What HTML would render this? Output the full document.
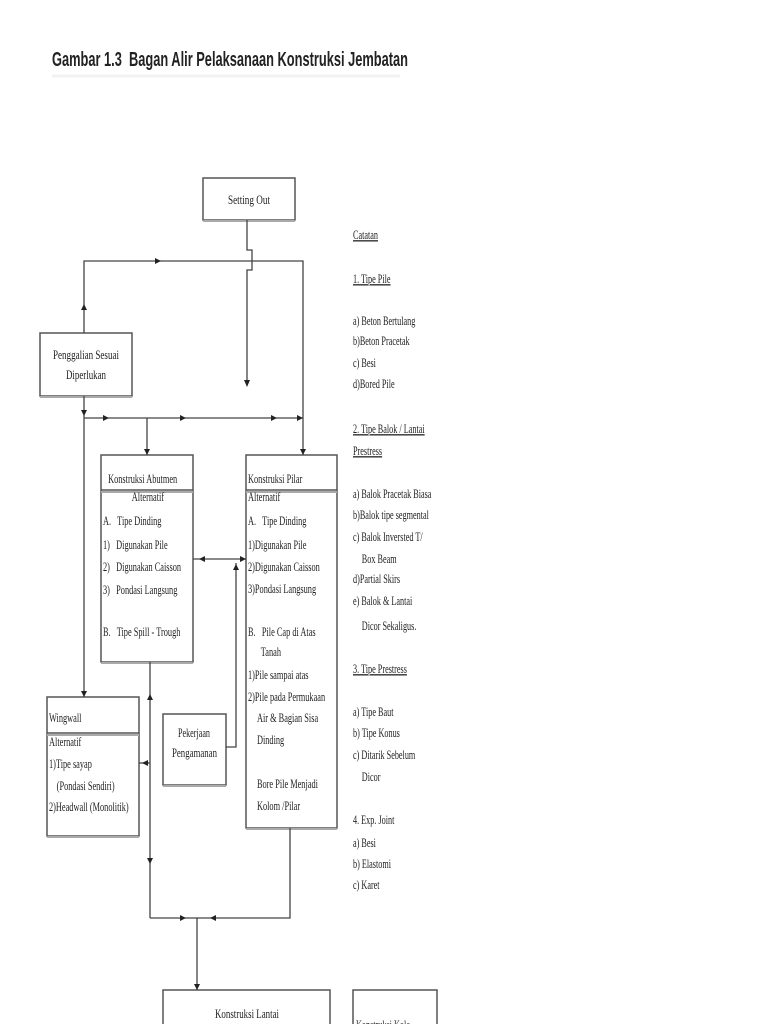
<!DOCTYPE html>
<html><head><meta charset="utf-8"><style>
html,body{margin:0;padding:0;background:#fff;width:768px;height:1024px;overflow:hidden}
svg{display:block}
text{font-family:"Liberation Serif",serif;font-size:13px;fill:#222;white-space:pre}
</style></head><body>
<svg width="768" height="1024" viewBox="0 0 768 1024" xmlns="http://www.w3.org/2000/svg">
<text x="52" y="66" textLength="356" lengthAdjust="spacingAndGlyphs" style="font-family:'Liberation Sans',sans-serif;font-size:20px;font-weight:bold;fill:#222">Gambar 1.3  Bagan Alir Pelaksanaan Konstruksi Jembatan</text>
<line x1="52" y1="76" x2="400" y2="76" stroke="#f2f2f2" stroke-width="3"/>

<g fill="none" stroke="#555" stroke-width="1.5">
<rect x="203" y="178" width="92" height="42"/>
<rect x="40" y="333" width="92" height="63"/>
<rect x="101" y="455" width="92" height="207"/>
<line x1="101" y1="490" x2="193" y2="490"/>
<rect x="246" y="455" width="91" height="373"/>
<line x1="246" y1="490" x2="337" y2="490"/>
<rect x="47" y="697" width="92" height="139"/>
<line x1="47" y1="733" x2="139" y2="733"/>
<rect x="163" y="714" width="63" height="71"/>
<rect x="163" y="990" width="167" height="40"/>
<rect x="353" y="990" width="84" height="40"/>
</g>
<g fill="none" stroke="#aaa" stroke-width="2">
<line x1="203" y1="221" x2="295" y2="221"/>
<line x1="40" y1="397" x2="132" y2="397"/>
<line x1="101" y1="663" x2="193" y2="663"/>
<line x1="246" y1="829" x2="337" y2="829"/>
<line x1="47" y1="837" x2="139" y2="837"/>
<line x1="163" y1="786" x2="226" y2="786"/>
<line x1="101" y1="492" x2="193" y2="492"/>
<line x1="246" y1="492" x2="337" y2="492"/>
<line x1="47" y1="735" x2="139" y2="735"/>
</g>

<g fill="none" stroke="#444" stroke-width="1.3">
<polyline points="247,220 247,250 252,250 252,270 247,270 247,385"/>
<polyline points="84,333 84,261 303,261 303,455"/>
<line x1="84" y1="396" x2="84" y2="697"/>
<line x1="84" y1="418" x2="303" y2="418"/>
<line x1="147" y1="418" x2="147" y2="455"/>
<line x1="193" y1="559" x2="246" y2="559"/>
<polyline points="226,747 236,747 236,563"/>
<line x1="150" y1="662" x2="150" y2="918"/>
<line x1="139" y1="763" x2="150" y2="763"/>
<polyline points="150,918 290,918 290,828"/>
<line x1="197" y1="918" x2="197" y2="990"/>
</g>
<g fill="#222">
<polygon points="244,380 250,380 247,387"/>
<polygon points="155,258 155,264 161,261"/>
<polygon points="81,310 87,310 84,304"/>
<polygon points="81,410 87,410 84,416"/>
<polygon points="103,415 103,421 109,418"/>
<polygon points="180,415 180,421 186,418"/>
<polygon points="271,415 271,421 277,418"/>
<polygon points="297,415 297,421 303,418"/>
<polygon points="144,449 150,449 147,455"/>
<polygon points="300,449 306,449 303,455"/>
<polygon points="81,691 87,691 84,697"/>
<polygon points="199,559 205,556 205,562"/>
<polygon points="246,559 240,556 240,562"/>
<polygon points="233,570 239,570 236,564"/>
<polygon points="147,700 153,700 150,694"/>
<polygon points="147,858 153,858 150,864"/>
<polygon points="142,763 148,760 148,766"/>
<polygon points="180,915 180,921 186,918"/>
<polygon points="216,915 216,921 210,918"/>
<polygon points="194,984 200,984 197,990"/>
</g>

<text x="228" y="204" textLength="42" lengthAdjust="spacingAndGlyphs">Setting Out</text>
<text x="53" y="359" textLength="66" lengthAdjust="spacingAndGlyphs">Penggalian Sesuai</text>
<text x="66" y="379" textLength="40" lengthAdjust="spacingAndGlyphs">Diperlukan</text>
<text x="178" y="737" textLength="32" lengthAdjust="spacingAndGlyphs">Pekerjaan</text>
<text x="172" y="757" textLength="45" lengthAdjust="spacingAndGlyphs">Pengamanan</text>
<text x="215" y="1018" textLength="64" lengthAdjust="spacingAndGlyphs">Konstruksi Lantai</text>

<g transform="translate(103,0) scale(0.64,1)">
<text x="8" y="483">Konstruksi Abutmen</text>
<text x="45" y="501">Alternatif</text>
<text x="0" y="525">A.   Tipe Dinding</text>
<text x="0" y="549">1)   Digunakan Pile</text>
<text x="0" y="571">2)   Digunakan Caisson</text>
<text x="0" y="594">3)   Pondasi Langsung</text>
<text x="0" y="636">B.   Tipe Spill - Trough</text>
</g>
<g transform="translate(248,0) scale(0.64,1)">
<text x="0" y="483">Konstruksi Pilar</text>
<text x="0" y="501">Alternatif</text>
<text x="0" y="525">A.   Tipe Dinding</text>
<text x="0" y="549">1)Digunakan Pile</text>
<text x="0" y="571">2)Digunakan Caisson</text>
<text x="0" y="593">3)Pondasi Langsung</text>
<text x="0" y="636">B.   Pile Cap di Atas</text>
<text x="20" y="656">Tanah</text>
<text x="0" y="679">1)Pile sampai atas</text>
<text x="0" y="701">2)Pile pada Permukaan</text>
<text x="14" y="722">Air &amp; Bagian Sisa</text>
<text x="14" y="744">Dinding</text>
<text x="14" y="788">Bore Pile Menjadi</text>
<text x="14" y="810">Kolom /Pilar</text>
</g>
<g transform="translate(49,0) scale(0.64,1)">
<text x="0" y="722">Wingwall</text>
<text x="0" y="746">Alternatif</text>
<text x="0" y="768">1)Tipe sayap</text>
<text x="12" y="790">(Pondasi Sendiri)</text>
<text x="0" y="811">2)Headwall (Monolitik)</text>
</g>
<g transform="translate(353,0) scale(0.63,1)">
<text x="0" y="239" text-decoration="underline">Catatan</text>
<text x="0" y="283" text-decoration="underline">1. Tipe Pile</text>
<text x="0" y="325">a) Beton Bertulang</text>
<text x="0" y="345">b)Beton Pracetak</text>
<text x="0" y="367">c) Besi</text>
<text x="0" y="388">d)Bored Pile</text>
<text x="0" y="433" text-decoration="underline">2. Tipe Balok / Lantai</text>
<text x="0" y="455" text-decoration="underline">Prestress</text>
<text x="0" y="498">a) Balok Pracetak Biasa</text>
<text x="0" y="519">b)Balok tipe segmental</text>
<text x="0" y="541">c) Balok Inversted T/</text>
<text x="14" y="563">Box Beam</text>
<text x="0" y="583">d)Partial Skirs</text>
<text x="0" y="605">e) Balok &amp; Lantai</text>
<text x="14" y="630">Dicor Sekaligus.</text>
<text x="0" y="673" text-decoration="underline">3. Tipe Prestress</text>
<text x="0" y="716">a) Tipe Baut</text>
<text x="0" y="737">b) Tipe Konus</text>
<text x="0" y="759">c) Ditarik Sebelum</text>
<text x="14" y="781">Dicor</text>
<text x="0" y="824">4. Exp. Joint</text>
<text x="0" y="847">a) Besi</text>
<text x="0" y="868">b) Elastomi</text>
<text x="0" y="889">c) Karet</text>
</g>
<g transform="translate(356,0) scale(0.63,1)"><text x="0" y="1029">Konstruksi Kolo</text></g>
</svg>
</body></html>
